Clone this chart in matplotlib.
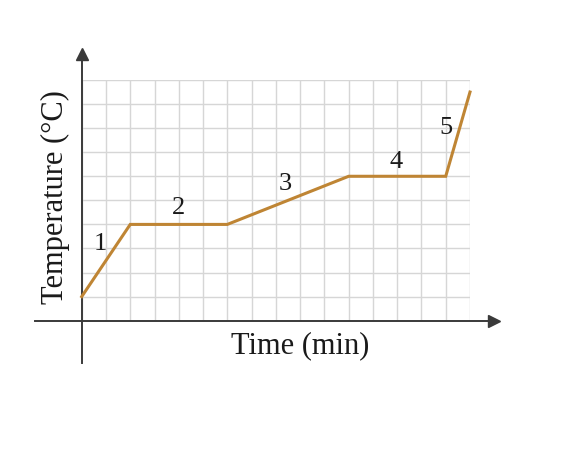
import matplotlib
matplotlib.use("Agg")
import matplotlib.pyplot as plt

# Data (grid units)
time_pts = [0, 2, 6, 11, 15, 16]
temp_pts = [1, 4, 4, 6, 6, 9.5]
seg_labels = ["1", "2", "3", "4", "5"]
label_x = [0.75, 4.0, 8.4, 12.95, 15.0]
label_y = [3.2, 4.7, 5.7, 6.6, 8.0]

W, H = 582, 450
fig = plt.figure(figsize=(W / 100, H / 100), dpi=100)
x0, x1 = 81.7, 470.0
y0, y1 = 320.7, 80.0
ax = fig.add_axes([x0 / W, 1 - y0 / H, (x1 - x0) / W, (y0 - y1) / H])
ax.set_xlim(0, 16)
ax.set_ylim(0, 10)
for s in ax.spines.values():
    s.set_visible(False)
ax.set_xticks(range(0, 17))
ax.set_yticks(range(0, 11))
ax.tick_params(length=0, labelbottom=False, labelleft=False)
ax.grid(True, color="#d6d6d6", linewidth=1.0)
ax.set_axisbelow(True)

serif = ["Liberation Serif", "DejaVu Serif"]
axc = "#3a3a3a"
# axes lines with arrows
ax.plot([-1.92, 16.75], [0, 0], color=axc, lw=1.4, clip_on=False, zorder=3)
ax.plot([0, 0], [-1.76, 10.9], color=axc, lw=1.4, clip_on=False, zorder=3)
ax.plot([17.0], [0], marker=">", color=axc, markersize=8, clip_on=False, zorder=3)
ax.plot([0], [11.1], marker="^", color=axc, markersize=8, clip_on=False, zorder=3)

ax.plot(time_pts, temp_pts, color="#bf8534", lw=2.2, solid_joinstyle="miter",
        clip_on=False, zorder=4)

for t, lx, ly in zip(seg_labels, label_x, label_y):
    ax.text(lx, ly, t, fontsize=19, family=serif, ha="center", va="center",
            color="#1a1a1a", zorder=5)

fig.text(300 / W, 1 - 346 / H, "Time (min)", fontsize=22, family=serif,
         ha="center", va="center", color="#1a1a1a")
fig.text(55 / W, 1 - 197 / H, "Temperature (°C)", fontsize=22, family=serif,
         ha="center", va="center", rotation=90, color="#1a1a1a")

fig.savefig("out.png", dpi=100)
